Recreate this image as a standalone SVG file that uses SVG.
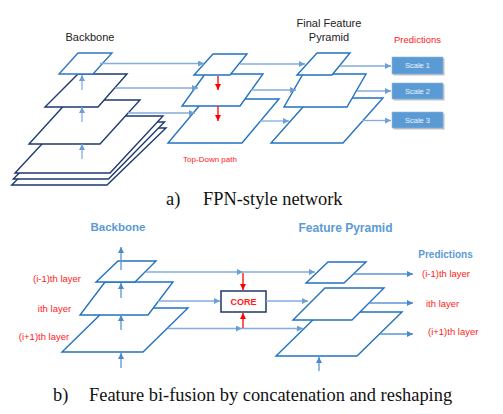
<svg xmlns="http://www.w3.org/2000/svg" width="503" height="414" viewBox="0 0 503 414">
<defs>
<marker id="ah" markerUnits="userSpaceOnUse" markerWidth="7" markerHeight="7" refX="6" refY="3" orient="auto"><path d="M0,0 L6,3 L0,6 z" fill="#6c9fd6"/></marker>
<marker id="ahd" markerUnits="userSpaceOnUse" markerWidth="7" markerHeight="7" refX="6" refY="3" orient="auto"><path d="M0,0 L6,3 L0,6 z" fill="#4a88cc"/></marker>
<marker id="rh" markerUnits="userSpaceOnUse" markerWidth="7" markerHeight="7" refX="6" refY="3" orient="auto"><path d="M0,0 L6,3 L0,6 z" fill="#ff0000"/></marker>
</defs>
<style>
.bb{fill:#fff;stroke:#1f3a6e;stroke-width:1.4;stroke-linejoin:miter}
.bt{fill:#fff;stroke:#2e78c2;stroke-width:1.4}
.pl{fill:#fff;stroke:#2272c0;stroke-width:1.4}
.ar{stroke:#84acdc;stroke-width:1.3;fill:none;marker-end:url(#ah)}
.ad{stroke:#5b95d3;stroke-width:1.3;fill:none;marker-end:url(#ahd)}
.ra{stroke:#ff0000;stroke-width:1.3;fill:none;marker-end:url(#rh)}
.sb{fill:#5b9bd5;stroke:#8fb8e2;stroke-width:0.6}
.sh{fill:#bfbfbf}
.t{font-family:"Liberation Sans",Arial,sans-serif}
.cap{font-family:"Liberation Serif","Times New Roman",serif;font-size:18.4px;fill:#111}
.red{fill:#ff1a1a}
.lb{font-family:"Liberation Sans",Arial,sans-serif;font-weight:bold;fill:#5b9bd5}
</style>
<rect width="503" height="414" fill="#fff"/>

<!-- Top section: backbone -->
<g id="backbone-stack">
<polygon class="bb" points="70,128 166,128 107,185 11.7,185"/>
<polygon class="bb" points="69,122 164.5,122 108.5,179 13.3,179"/>
<polygon class="bb" points="68,116 163,116 110,173 15,173"/>
</g>
<g id="backbone-l3"><polygon class="bb" points="69,100 140,100 100,144 29,144"/></g>
<g id="backbone-l2"><polygon class="bb" points="78,74 127,74 98,107 45,107"/></g>
<g id="backbone-l1"><polygon class="bt" points="78,53 112,53 93,74 59,74"/></g>

<!-- Top-down path -->
<g id="td-c"><polygon class="pl" points="205,99 279,99 242,143 168,143"/></g>
<g id="td-b"><polygon class="pl" points="205,74 263,74 240,106 182,106"/></g>
<g id="td-a"><polygon class="pl" points="213,54 247,54 230,75 194,75"/></g>

<!-- Final pyramid -->
<g id="fp-c"><polygon class="pl" points="311,98 383,98 343,143 271,143"/></g>
<g id="fp-b"><polygon class="pl" points="303,74 366,74 347,107 284,107"/></g>
<g id="fp-a"><polygon class="pl" points="317,53 350,53 332,75 297,75"/></g>

<g id="scale1"><rect class="sh" x="393.5" y="58.5" width="51" height="17"/><rect class="sb" x="392" y="57" width="51" height="17"/><text class="t" x="417.5" y="68.2" font-size="7.5" fill="#eef4fb" text-anchor="middle">Scale 1</text></g>
<g id="scale2"><rect class="sh" x="393.5" y="84.5" width="51" height="16"/><rect class="sb" x="392" y="83" width="51" height="16"/><text class="t" x="417.5" y="93.7" font-size="7.5" fill="#eef4fb" text-anchor="middle">Scale 2</text></g>
<g id="scale3"><rect class="sh" x="393.5" y="113.5" width="51" height="16"/><rect class="sb" x="392" y="112" width="51" height="16"/><text class="t" x="417.5" y="122.7" font-size="7.5" fill="#eef4fb" text-anchor="middle">Scale 3</text></g>

<g id="labels-a">
<text class="t" x="90" y="41" font-size="11" fill="#222" text-anchor="middle">Backbone</text>
<text class="t" x="329" y="27" font-size="11" fill="#222" text-anchor="middle">Final Feature</text>
<text class="t" x="329" y="41" font-size="11" fill="#222" text-anchor="middle">Pyramid</text>
<text class="t red" x="417.5" y="43" font-size="9.5" text-anchor="middle">Predictions</text>
<text class="t red" x="210" y="162" font-size="8" text-anchor="middle">Top-Down path</text>
<text class="cap" x="166" y="205">a)</text>
<text class="cap" x="203" y="205">FPN-style network</text>
</g>

<!-- Bottom section -->
<g id="bk-l3"><polygon class="pl" points="107,308 188,308 143,352 62,352"/></g>
<g id="bk-l2"><polygon class="pl" points="105,282 173,282 148,315 80,315"/></g>
<g id="bk-l1"><polygon class="pl" points="118,261 156,261 135,282 96,282"/></g>

<g id="fpb-l3"><polygon class="pl" points="321,312 402,312 357,356 276,356"/></g>
<g id="fpb-l2"><polygon class="pl" points="325,288 384,288 352,320 293,320"/></g>
<g id="fpb-l1"><polygon class="pl" points="328,262 366,262 344,283 306,283"/></g>

<g id="core"><rect x="221" y="291" width="45" height="21" fill="#fff" stroke="#1f3864" stroke-width="1.5"/><text class="t red" x="243.5" y="304.5" font-size="9" font-weight="bold" text-anchor="middle">CORE</text></g>

<g id="labels-b">
<text class="lb" x="118" y="231" font-size="11.5" text-anchor="middle">Backbone</text>
<text class="lb" x="345.5" y="232" font-size="12" text-anchor="middle">Feature Pyramid</text>
<text class="lb" x="445.5" y="258" font-size="10" text-anchor="middle">Predictions</text>
<text class="t red" x="57" y="281.5" font-size="9.5" text-anchor="middle">(i-1)th layer</text>
<text class="t red" x="54.5" y="312" font-size="9.5" text-anchor="middle">ith layer</text>
<text class="t red" x="44" y="340" font-size="9.5" text-anchor="middle">(i+1)th layer</text>
<text class="t red" x="422" y="276.5" font-size="9.5">(i-1)th layer</text>
<text class="t red" x="426" y="307" font-size="9.5">ith layer</text>
<text class="t red" x="428" y="334.5" font-size="9.5">(i+1)th layer</text>
<text class="cap" x="53" y="401">b)</text>
<text class="cap" x="89" y="401">Feature bi-fusion by concatenation and reshaping</text>
</g>

<g id="connectors">
<line class="ar" x1="82" y1="90" x2="82" y2="75"/>
<line class="ar" x1="82" y1="122" x2="82" y2="107"/>
<line class="ar" x1="82" y1="159" x2="82" y2="144"/>
<line class="ar" x1="100" y1="63.5" x2="204" y2="63.5"/>
<line class="ar" x1="115" y1="88" x2="198" y2="88"/>
<line class="ar" x1="128" y1="113" x2="195" y2="113"/>
<line class="ra" x1="218" y1="76" x2="218" y2="90"/>
<line class="ra" x1="218" y1="106" x2="218" y2="121"/>
<line class="ar" x1="240" y1="64" x2="305" y2="64"/>
<line class="ar" x1="251" y1="90" x2="296" y2="90"/>
<line class="ar" x1="260" y1="121" x2="289" y2="121"/>
<line class="ar" x1="340" y1="66" x2="391" y2="66"/>
<line class="ar" x1="357" y1="91" x2="391" y2="91"/>
<line class="ar" x1="362" y1="120.5" x2="391" y2="120.5"/>

<line class="ad" x1="121" y1="270" x2="121" y2="247"/>
<line class="ad" x1="121" y1="298" x2="121" y2="283"/>
<line class="ad" x1="121" y1="330" x2="121" y2="315"/>
<line class="ad" x1="121" y1="368" x2="121" y2="353"/>
<line class="ad" x1="319" y1="371" x2="319" y2="357"/>
<line class="ar" x1="146" y1="272" x2="243" y2="272"/>
<line class="ar" x1="243" y1="272" x2="315" y2="272"/>
<line class="ar" x1="158" y1="301" x2="220" y2="301"/>
<line class="ar" x1="266" y1="301" x2="308" y2="301"/>
<line class="ar" x1="168" y1="328.5" x2="242" y2="328.5"/>
<line class="ar" x1="242" y1="328.5" x2="303" y2="328.5"/>
<line class="ra" x1="243" y1="273" x2="243" y2="290"/>
<line class="ra" x1="243" y1="328" x2="243" y2="313"/>
<line class="ad" x1="354" y1="274" x2="413" y2="274"/>
<line class="ad" x1="369" y1="303" x2="413" y2="303"/>
<line class="ad" x1="380" y1="334" x2="413" y2="334"/>
</g>
</svg>
